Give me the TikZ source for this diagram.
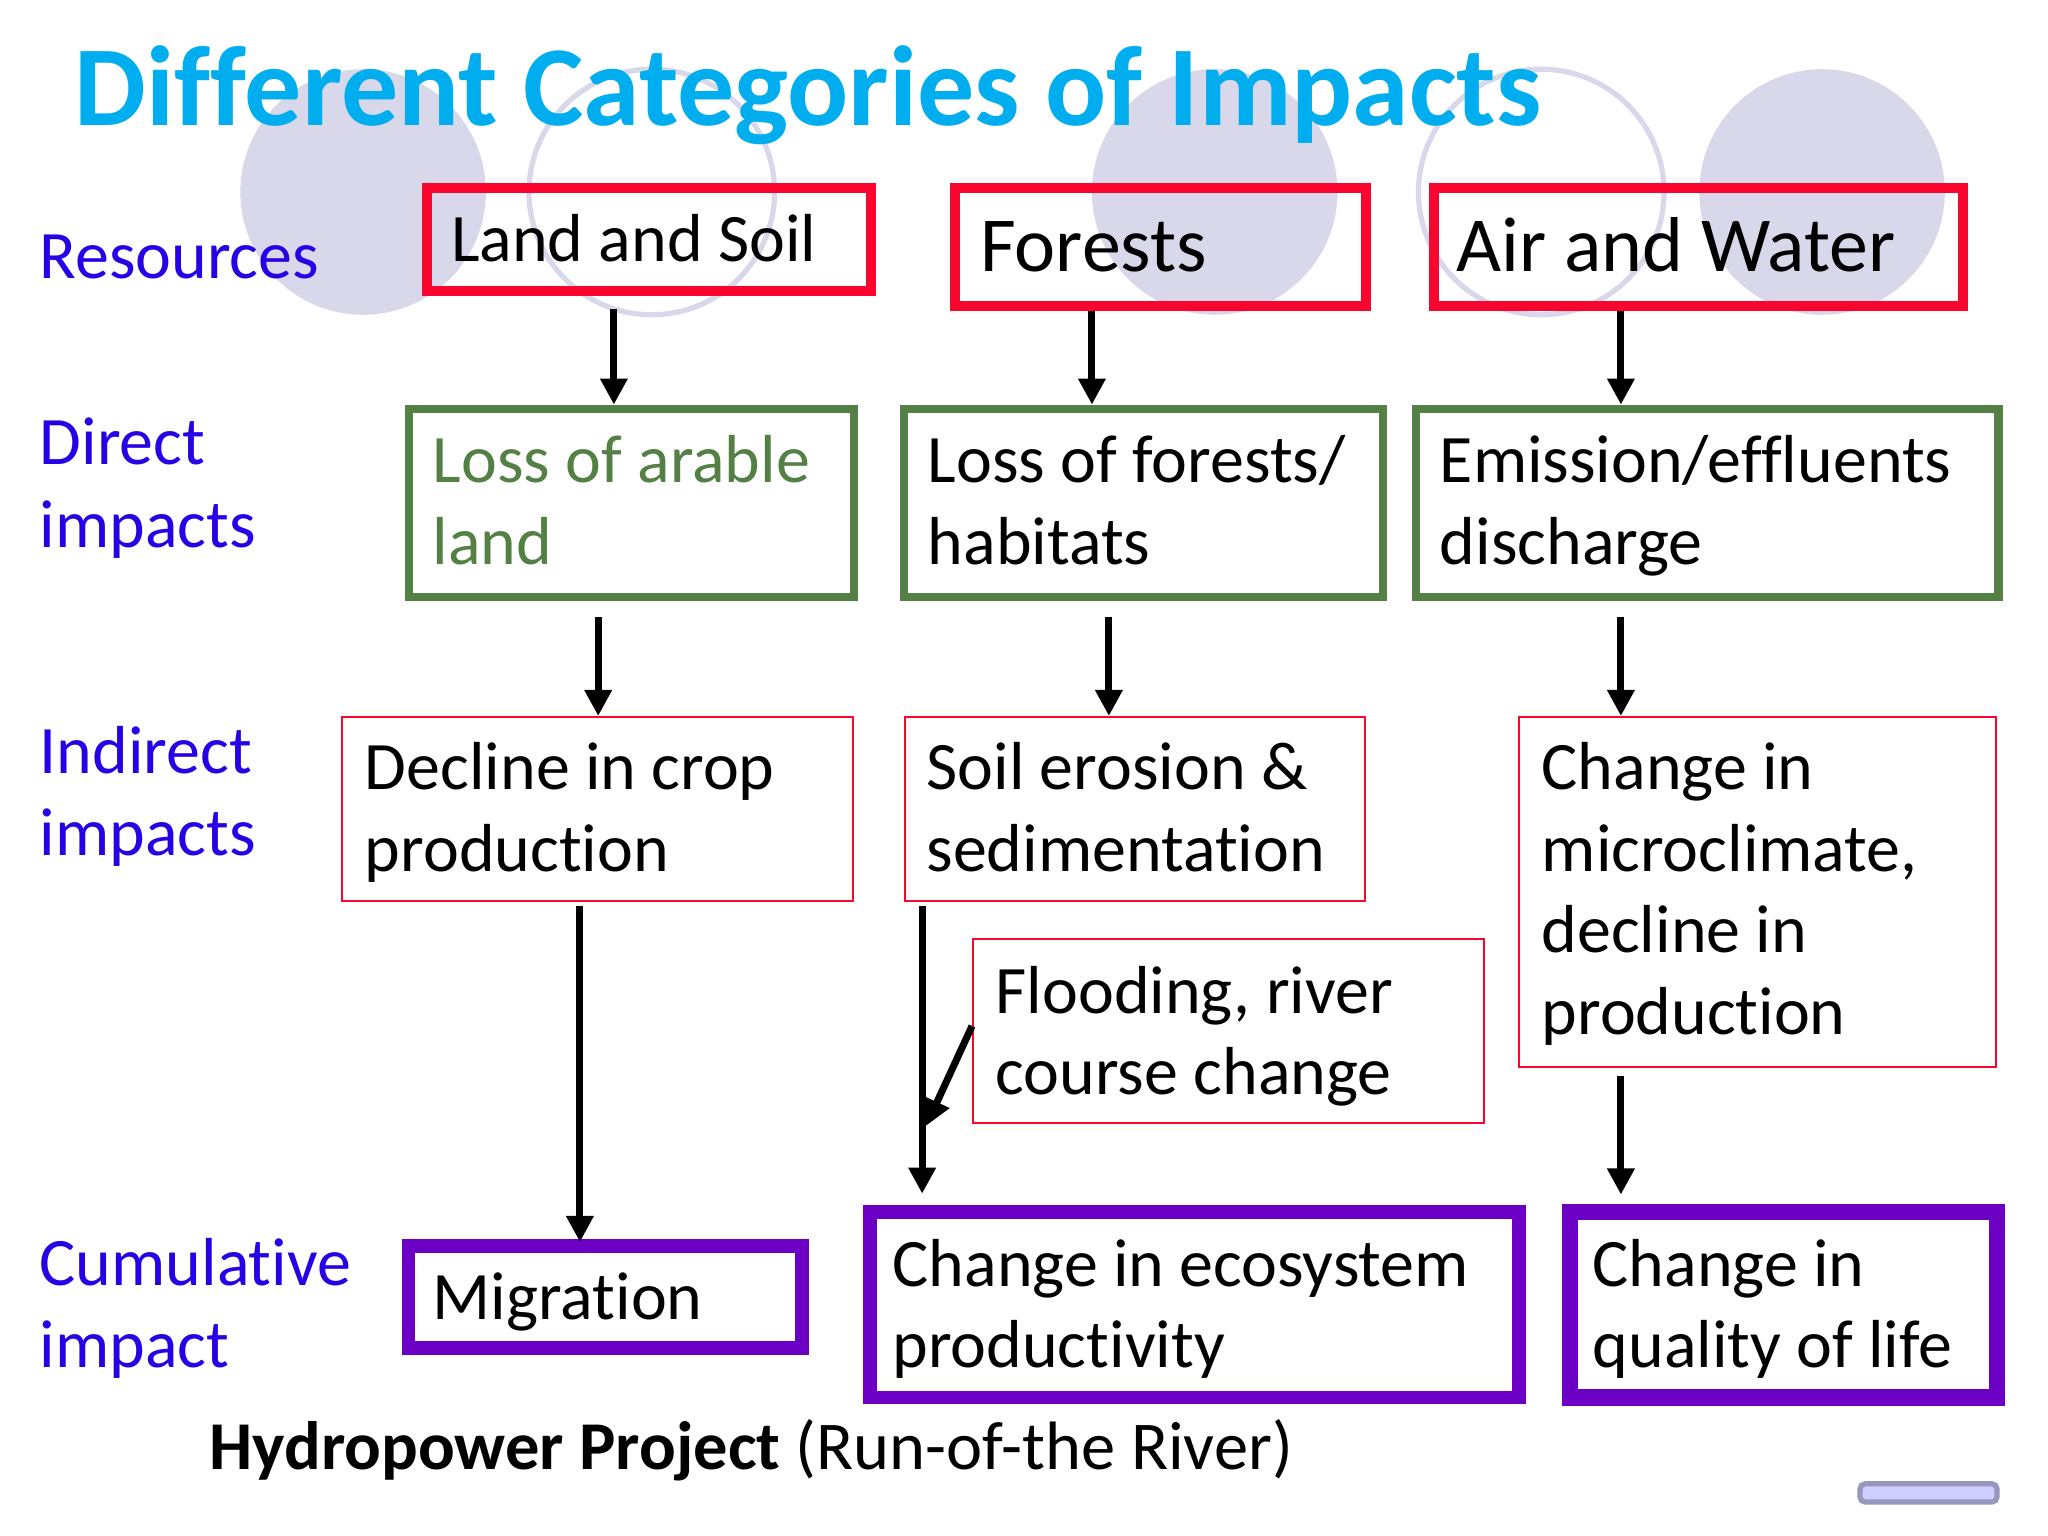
\documentclass[tikz,border=0pt]{standalone}
\usepackage{fontspec}
\setmainfont{Carlito}[Ligatures=NoCommon]
\usetikzlibrary{arrows.meta,fit}
\definecolor{titleblue}{RGB}{0,174,239}
\definecolor{lblblue}{RGB}{40,0,230}
\definecolor{boxred}{RGB}{250,5,45}
\definecolor{boxgreen}{RGB}{84,128,70}
\definecolor{boxpurple}{RGB}{108,0,196}
\definecolor{lav}{RGB}{216,216,234}
\definecolor{barfill}{RGB}{206,206,255}
\definecolor{barline}{RGB}{150,150,190}
\tikzset{
  redthick/.style={draw=boxred, line width=3.8pt, inner sep=0pt},
  redthin/.style={draw=boxred, line width=0.8pt, inner sep=0pt},
  greenbox/.style={draw=boxgreen, line width=3.2pt, inner sep=0pt},
  purplebox/.style={draw=boxpurple, line width=5.1pt, inner sep=0pt},
  txt/.style={anchor=base west, inner sep=0pt, align=left, font=\fontsize{26}{31.2}\selectfont},
  bigtxt/.style={anchor=base west, inner sep=0pt, font=\fontsize{29.8}{34}\selectfont},
  lbl/.style={anchor=base west, inner sep=0pt, align=left, text=lblblue, font=\fontsize{26}{31.5}\selectfont},
  arr/.style={line width=2.7pt, -{Triangle[length=10pt,width=10pt]}},
}
\begin{document}
\begin{tikzpicture}[x=0.5pt,y=-0.5pt]
\fill[white] (0,0) rectangle (1568,1176);
\useasboundingbox (0,0) rectangle (1568,1176);
% decorative circles
\fill[lav] (278,147) circle[radius=47pt];
\draw[lav, line width=2pt] (499,147) circle[radius=47pt];
\fill[lav] (930,147) circle[radius=47pt];
\draw[lav, line width=2pt] (1180,147) circle[radius=47pt];
\fill[lav] (1395,147) circle[radius=47pt];
% title
\node[anchor=base west, inner sep=0pt, text=titleblue, font=\fontsize{43.6}{50}\selectfont\bfseries] (title) at (57,96) {Different Categories of Impacts};
% left labels (base anchor = last line)
\node[lbl] (lres) at (30,213) {Resources};
\node[lbl] (ldir) at (30,419) {Direct\\impacts};
\node[lbl] (lind) at (30,655) {Indirect\\impacts};
\node[lbl] (lcum) at (30,1047) {Cumulative\\impact};
% row 1 boxes
\node[redthick, fit={(327,144)(667,223)}] (b11) {};
\node[txt] (t11) at (345,200) {Land and Soil};
\node[redthick, fit={(731,144)(1046,234)}] (b12) {};
\node[bigtxt] (t12) at (750,208) {Forests};
\node[redthick, fit={(1098,144)(1503,234)}] (b13) {};
\node[bigtxt] (t13) at (1115,208) {Air and Water};
% row 2 boxes
\node[greenbox, fit={(313,313)(654,457)}] (b21) {};
\node[txt, text=boxgreen] (t21) at (331,432) {Loss of arable\\land};
\node[greenbox, fit={(692,313)(1059,457)}] (b22) {};
\node[txt] (t22) at (710,432) {Loss of forests/\\habitats};
\node[greenbox, fit={(1084,313)(1530,457)}] (b23) {};
\node[txt] (t23) at (1102,432) {Emission/effluents\\discharge};
% row 3 boxes
\node[redthin, fit={(262,549)(653,690)}] (b31) {};
\node[txt] (t31) at (279,667) {Decline in crop\\production};
\node[redthin, fit={(693,549)(1045,690)}] (b32) {};
\node[txt] (t32) at (709,667) {Soil erosion \&\\sedimentation};
\node[redthin, fit={(1163,549)(1528,817)}] (b33) {};
\node[txt] (t33) at (1180,792) {Change in\\microclimate,\\decline in\\production};
\node[redthin, fit={(745,719)(1136,860)}] (bfl) {};
\node[txt] (tfl) at (762,838) {Flooding, river\\course change};
% row 4 boxes
\node[purplebox, fit={(313,954)(614,1032)}] (b41) {};
\node[txt] (t41) at (331,1010) {Migration};
\node[purplebox, fit={(666,928)(1163,1070)}] (b42) {};
\node[txt] (t42) at (683,1047) {Change in ecosystem\\productivity};
\node[purplebox, line width=6.4pt, fit={(1202,928)(1529,1070)}] (b43) {};
\node[txt] (t43) at (1219,1047) {Change in\\quality of life};
% footer
\node[anchor=base west, inner sep=0pt, font=\fontsize{26.2}{30}\selectfont] (foot) at (160,1125) {\textbf{Hydropower Project} (Run-of-the River)};
\node[draw=barline, fill=barfill, line width=2pt, rounded corners=2pt, inner sep=0pt, fit={(1424,1136)(1529,1150)}] (bar) {};
% column coordinates
\coordinate (x1) at (470,0);
\coordinate (x2) at (836,0);
\coordinate (x3) at (1241,0);
\coordinate (x4) at (458,0);
\coordinate (x5) at (849,0);
\coordinate (x6) at (444,0);
\coordinate (x7) at (706,0);
\coordinate (fe) at (709,862);
% connectors
\draw[arr] ([yshift=-5pt]b11.south -| x1) -- (b21.north -| x1);
\draw[arr] ([yshift=0pt]b12.south -| x2) -- (b22.north -| x2);
\draw[arr] ([yshift=0pt]b13.south -| x3) -- (b23.north -| x3);
\draw[arr] ([yshift=-6pt]b21.south -| x4) -- (b31.north -| x4);
\draw[arr] ([yshift=-6pt]b22.south -| x5) -- (b32.north -| x5);
\draw[arr] ([yshift=-6pt]b23.south -| x3) -- (b33.north -| x3);
\draw[arr] ([yshift=-1.5pt]b31.south -| x6) -- ([yshift=-1pt]b41.north -| x6);
\draw[arr] ([yshift=-1.5pt]b32.south -| x7) -- ([yshift=4.5pt]b42.north -| x7);
\draw[arr] ([yshift=-3pt]b33.south -| x3) -- ([yshift=3.5pt]b43.north -| x3);
\draw[arr] ([yshift=2pt]bfl.west) -- (fe);
\end{tikzpicture}
\end{document}
